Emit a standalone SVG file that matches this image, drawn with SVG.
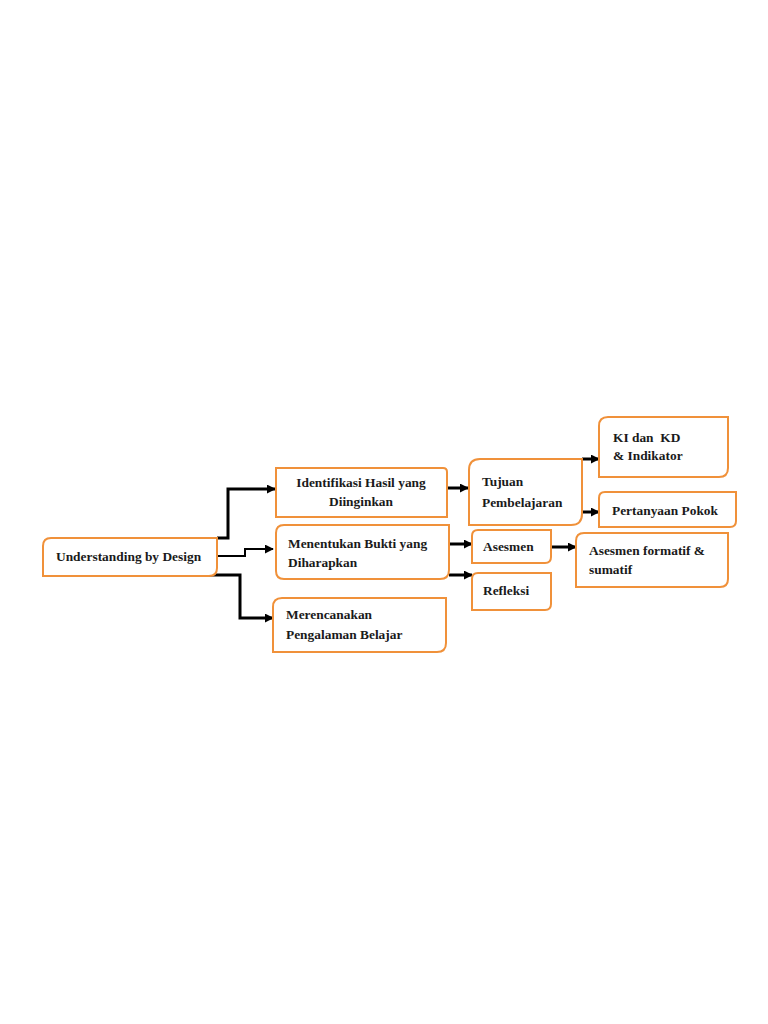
<svg xmlns="http://www.w3.org/2000/svg" width="768" height="1024" viewBox="0 0 768 1024">
<style>
.box{fill:#fff;stroke:#F0913A;stroke-width:2}
.t{font-family:"Liberation Serif","DejaVu Serif",serif;font-size:13.4px;fill:#1a1a1a;font-weight:bold}
.c{fill:none;stroke:#000;stroke-width:3}
.c2{fill:none;stroke:#000;stroke-width:2}
</style>
<defs>
<marker id="ah" viewBox="0 0 10 10" refX="9" refY="5" markerWidth="3" markerHeight="3" orient="auto" markerUnits="strokeWidth">
<path d="M0,0 L10,5 L0,10 z" fill="#000"/>
</marker>
<marker id="ah2" viewBox="0 0 10 10" refX="9" refY="5" markerWidth="4.5" markerHeight="4.5" orient="auto" markerUnits="strokeWidth">
<path d="M0,0 L10,5 L0,10 z" fill="#000"/>
</marker>
</defs>
<rect width="768" height="1024" fill="#fff"/>
<g id="connectors">
<path class="c" d="M217,538 H228 V489 H275" marker-end="url(#ah)"/>
<path class="c2" d="M217,556 H245 V549 H273" marker-end="url(#ah2)"/>
<path class="c" d="M207,575 H240 V618 H273" marker-end="url(#ah)"/>
<path class="c" d="M447,488 H468" marker-end="url(#ah)"/>
<path class="c" d="M449,544 H472" marker-end="url(#ah)"/>
<path class="c" d="M449,575 H472" marker-end="url(#ah)"/>
<path class="c" d="M582,459 H599" marker-end="url(#ah)"/>
<path class="c" d="M582,512 H599" marker-end="url(#ah)"/>
<path class="c" d="M551,547 H576" marker-end="url(#ah)"/>
</g>
<g id="n-ubd">
<path class="box" d="M51,538 H217 V568 Q217,576 209,576 H43 V546 Q43,538 51,538 Z"/>
<text class="t" x="56" y="561">Understanding by Design</text>
</g>
<g id="n-identifikasi">
<path class="box" d="M276,468 H443 Q447,468 447,472 V517 H276 Z"/>
<text class="t" x="361" y="487" text-anchor="middle">Identifikasi Hasil yang</text>
<text class="t" x="361" y="506" text-anchor="middle">Diinginkan</text>
</g>
<g id="n-menentukan">
<path class="box" d="M284,525 H449 V570 Q449,579 440,579 H284 Q276,579 276,571 V533 Q276,525 284,525 Z"/>
<text class="t" x="288" y="548">Menentukan Bukti yang</text>
<text class="t" x="288" y="567">Diharapkan</text>
</g>
<g id="n-merencanakan">
<path class="box" d="M282,598 H446 V643 Q446,652 437,652 H273 V607 Q273,598 282,598 Z"/>
<text class="t" x="286" y="619">Merencanakan</text>
<text class="t" x="286" y="639">Pengalaman Belajar</text>
</g>
<g id="n-tujuan">
<path class="box" d="M480,459 H582 V514 Q582,525 571,525 H469 V470 Q469,459 480,459 Z"/>
<text class="t" x="482" y="486">Tujuan</text>
<text class="t" x="482" y="507">Pembelajaran</text>
</g>
<g id="n-asesmen">
<path class="box" d="M478,530 H551 V557 Q551,563 545,563 H472 V536 Q472,530 478,530 Z"/>
<text class="t" x="483" y="551">Asesmen</text>
</g>
<g id="n-refleksi">
<path class="box" d="M478,573 H551 V604 Q551,610 545,610 H472 V579 Q472,573 478,573 Z"/>
<text class="t" x="483" y="595">Refleksi</text>
</g>
<g id="n-ki">
<path class="box" d="M608,417 H728 V468 Q728,477 719,477 H599 V426 Q599,417 608,417 Z"/>
<text class="t" x="613" y="442" xml:space="preserve">KI dan  KD</text>
<text class="t" x="613" y="460">&amp; Indikator</text>
</g>
<g id="n-pertanyaan">
<path class="box" d="M605,492 H736 V521 Q736,527 730,527 H599 V498 Q599,492 605,492 Z"/>
<text class="t" x="612" y="515">Pertanyaan Pokok</text>
</g>
<g id="n-formatif">
<path class="box" d="M584,533 H728 V579 Q728,587 720,587 H576 V541 Q576,533 584,533 Z"/>
<text class="t" x="589" y="555">Asesmen formatif &amp;</text>
<text class="t" x="589" y="574">sumatif</text>
</g>
</svg>
